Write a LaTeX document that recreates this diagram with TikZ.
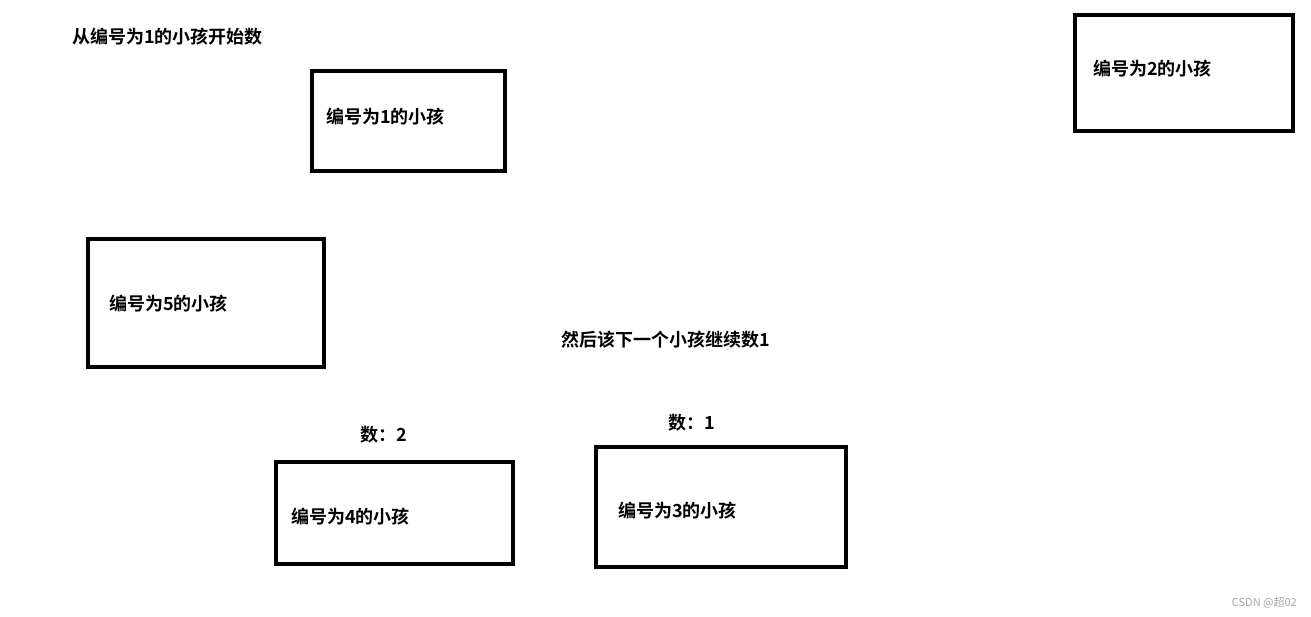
\documentclass[tikz,border=0pt]{standalone}
\usepackage{fontspec}
\setmainfont{Noto Sans CJK SC}[BoldFont={Noto Sans CJK SC Bold}]
\begin{document}
\begin{tikzpicture}[x=1pt,y=-1pt,
  kid/.style={draw=black,line width=3.5pt},
  lbl/.style={anchor=west,inner sep=0pt,font=\bfseries\fontsize{18}{20}\selectfont}]
\useasboundingbox (0,0) rectangle (1311,617);
\draw[kid] (312,71) rectangle (505,171);
\draw[kid] (1075,15) rectangle (1293,131);
\draw[kid] (88,239) rectangle (324,367);
\draw[kid] (276,462) rectangle (513,564);
\draw[kid] (596,447) rectangle (846,567);
\node[lbl] (t1) at (326,117) {编号为1的小孩};
\node[lbl] (t2) at (1093,69) {编号为2的小孩};
\node[lbl] (t5) at (109,304) {编号为5的小孩};
\node[lbl] (t4) at (291,517) {编号为4的小孩};
\node[lbl] (t3) at (618,511) {编号为3的小孩};
\node[lbl] (h1) at (72,37) {从编号为1的小孩开始数};
\node[lbl] (h2) at (561,340) {然后该下一个小孩继续数1};
\node[lbl] (c2) at (360,435) {数：2};
\node[lbl] (c1) at (668,423) {数：1};
\node[anchor=east,inner sep=0pt,text=gray!70,font=\fontsize{11}{12}\selectfont] (wm) at (1297,603) {CSDN @超02};
\end{tikzpicture}
\end{document}
